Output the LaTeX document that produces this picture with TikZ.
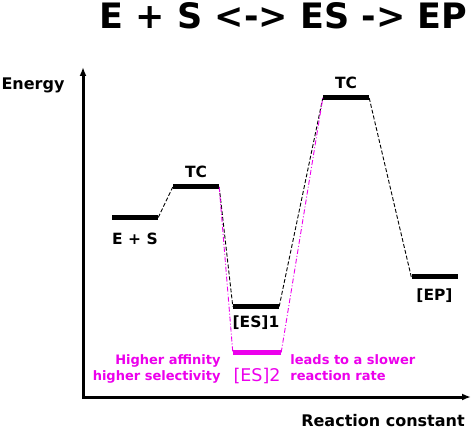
\documentclass[tikz,border=0pt]{standalone}
\usepackage{fontspec}
\setmainfont{DejaVu Sans}
\usepackage{xcolor}
\usetikzlibrary{positioning}
\usetikzlibrary{arrows.meta}
\definecolor{affinity}{RGB}{236,0,236}
\tikzset{enbar/.style={rectangle, fill=black, minimum width=46pt, minimum height=5pt, inner sep=0pt},
lab/.style={inner sep=0pt, font=\bfseries\fontsize{15.5}{18}\selectfont},
axislab/.style={inner sep=0pt, font=\bfseries\fontsize{16}{19}\selectfont},
note/.style={inner sep=0pt, text=affinity, font=\bfseries\fontsize{13}{16}\selectfont}}

\begin{document}
\begin{tikzpicture}[x=1pt, y=-1pt,
    axis/.style={line width=3pt, line join=miter, {Latex[length=9pt,width=7pt]}-{Latex[length=9pt,width=7pt]}},
    conn/.style={line width=0.9pt, dash pattern=on 4pt off 2pt},
    alt/.style={affinity, line width=0.9pt, dash pattern=on 5pt off 2pt on 1pt off 2pt}]
  \useasboundingbox (0,0) rectangle (474,430);
  \node[inner sep=0pt, anchor=base, font=\bfseries\fontsize{35}{40}\selectfont] (reaction) at (283.5,29) {E + S <-> ES -> EP};
  % axes
  \coordinate (origin) at (83,397);
  \coordinate (ytip) at (83,67);
  \coordinate (xtip) at (471,397);
  \draw[axis] (ytip) -- (origin) -- (xtip);
  \node[axislab, anchor=base] (energy) at (33,90) {Energy};
  \node[axislab, anchor=base] (constant) at (383,426) {Reaction constant};
  % levels
  \node[enbar] (es) at (135,217.5) {};
  \node[enbar] (tc1) at (196,187) {};
  \node[enbar] (es1) at (256,306.5) {};
  \node[enbar, fill=affinity, minimum width=48pt] (es2) at (257,352.5) {};
  \node[enbar] (tc2) at (346,98) {};
  \node[enbar] (ep) at (434.5,277) {};
  \node[lab, below=13pt of es] (eslab) {E + S};
  \node[lab, above=6pt of tc1] (tc1lab) {TC};
  \node[lab, below=6pt of es1] (es1lab) {[ES]1};
  \node[lab, above=6pt of tc2] (tc2lab) {TC};
  \node[lab, below=9pt of ep] (eplab) {[EP]};
  \node[inner sep=0pt, text=affinity, font=\fontsize{17.5}{20}\selectfont, below=13pt of es2] (es2lab) {[ES]2};
  \node[note, align=right, below left=1.5pt and 12pt of es2.west] (higher) {Higher affinity\\higher selectivity};
  \node[note, align=left, below right=1.5pt and 9pt of es2.east] (slower) {leads to a slower\\reaction rate};
  % paths
  \draw[conn] (es.east) -- (tc1.west);
  \draw[conn] (tc1.east) -- (es1.west);
  \draw[conn] (es1.east) -- (tc2.west);
  \draw[conn] (tc2.east) -- (ep.west);
  \draw[alt] (tc1.east) -- (es2.west);
  \draw[alt] (es2.east) -- (tc2.west);
\end{tikzpicture}
\end{document}
